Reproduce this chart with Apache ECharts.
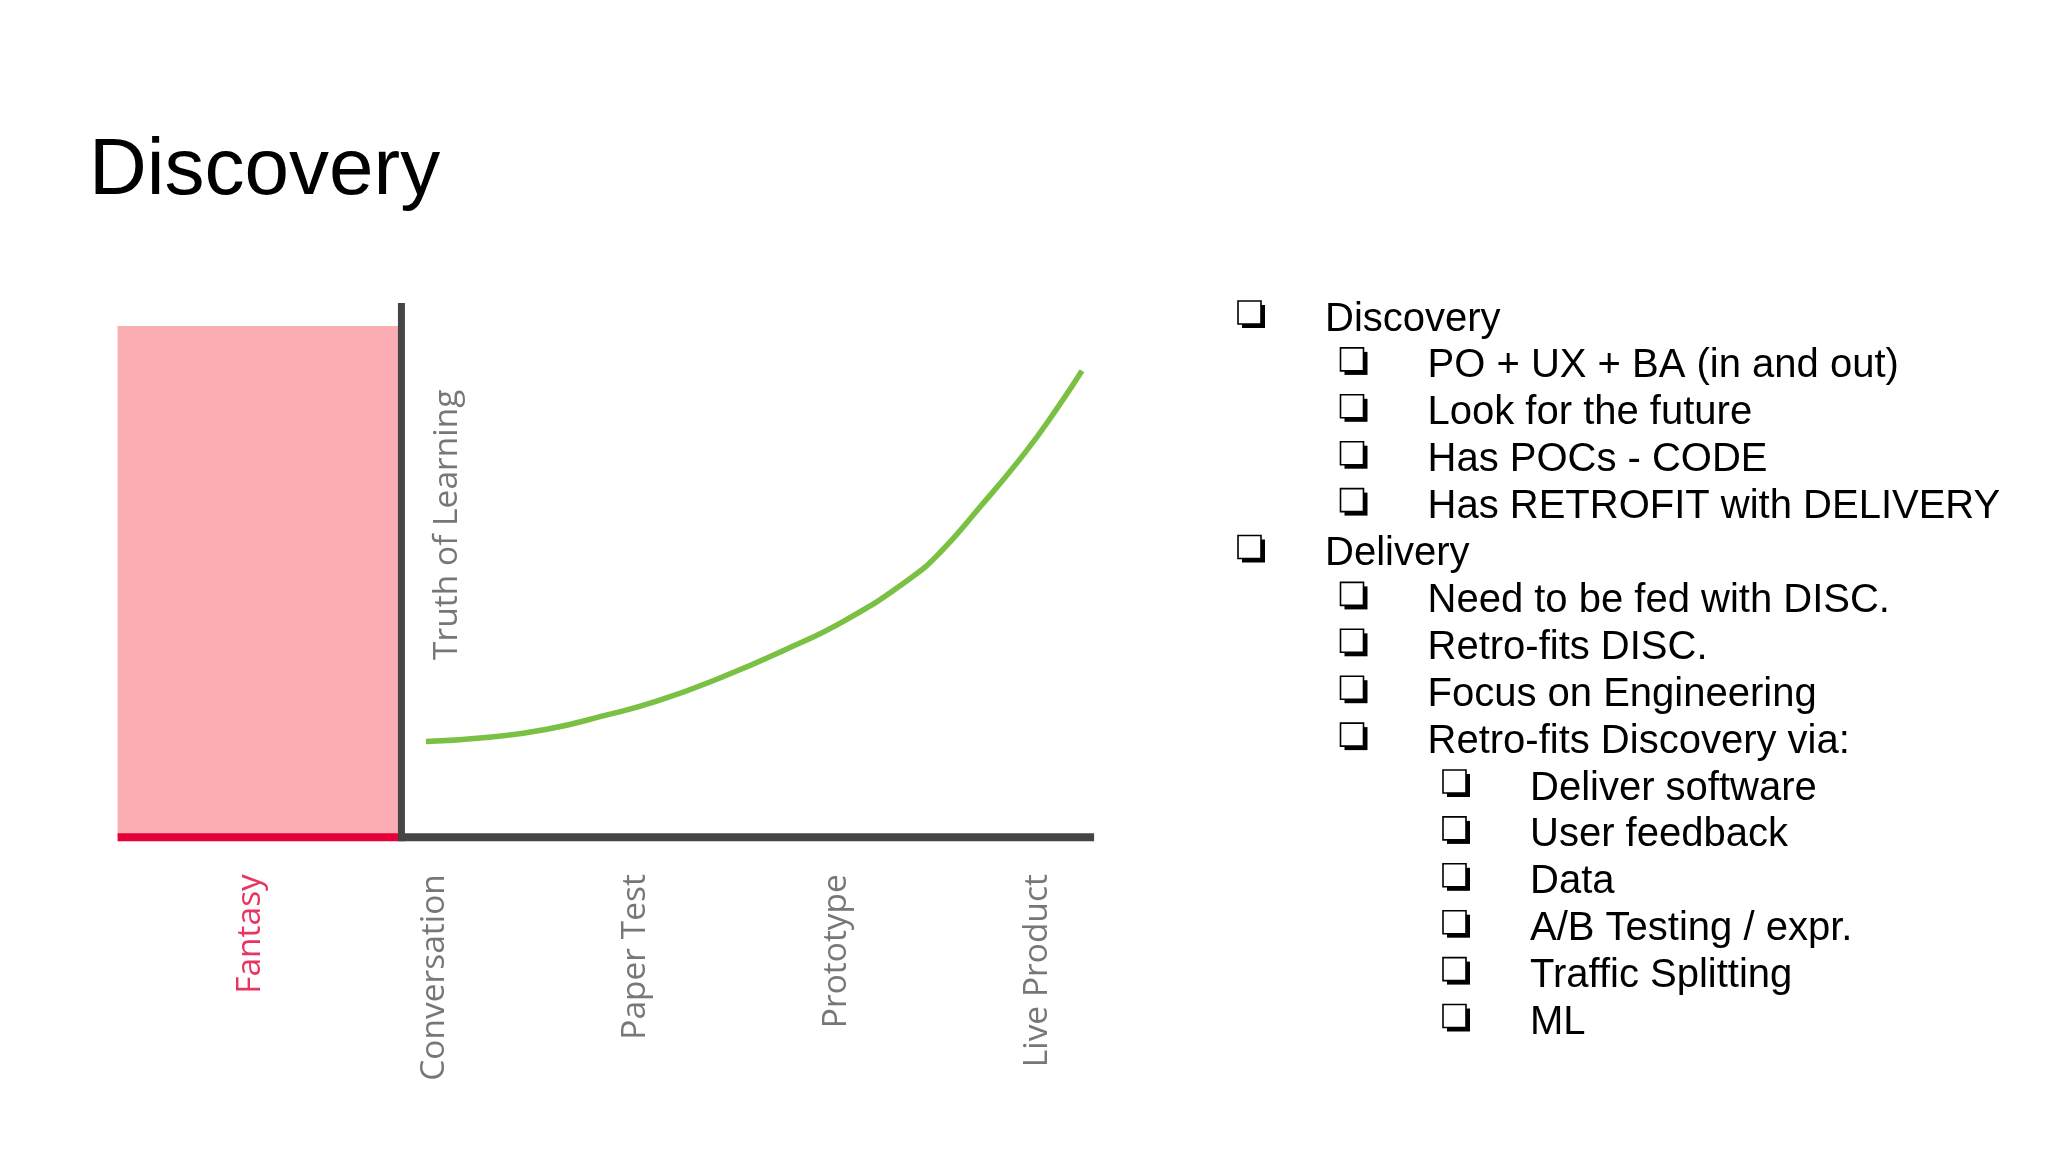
<!DOCTYPE html>
<html>
<head>
<meta charset="utf-8">
<title>Discovery</title>
<script src="https://cdn.jsdelivr.net/npm/echarts@6/dist/echarts.min.js"></script>
<style>
  html, body { margin: 0; padding: 0; background: #fff; }
  #main { width: 2048px; height: 1152px; }
</style>
</head>
<body>
<div id="main"></div>
<script>
// stages along the bottom (x in stage units, Conversation = 1)
const stages = ['Fantasy', 'Conversation', 'Paper Test', 'Prototype', 'Live Product']
const stageX = [0.09, 1, 2, 3, 4]
const stageColors = ['#e4003a', '#555555', '#555555', '#555555', '#555555']

// learning curve
const curveX = [0.96, 1.273, 1.561, 1.849, 2.118, 2.426, 2.739, 3.047, 3.36, 3.514, 3.712, 3.936, 4.09, 4.219]
const curveY = [17.9, 18.7, 20.2, 22.8, 25.6, 29.9, 35.0, 40.7, 48.3, 53.3, 61.8, 72.0, 80.0, 87.3]

const xMin = -0.572
const xMax = 4.279
const axisX = 0.838       // where the "truth" axis stands
const fantasyTop = 95.7   // height of the pink fantasy block
const yName = 'Truth of Learning'

// bullet list on the right
const bulletTexts = [
  'Discovery',
  'PO + UX + BA (in and out)',
  'Look for the future',
  'Has POCs - CODE',
  'Has RETROFIT with DELIVERY',
  'Delivery',
  'Need to be fed with DISC.',
  'Retro-fits DISC.',
  'Focus on Engineering',
  'Retro-fits Discovery via:',
  'Deliver software',
  'User feedback',
  'Data',
  'A/B Testing / expr.',
  'Traffic Splitting',
  'ML'
]
const bulletLevels = [0, 1, 1, 1, 1, 0, 1, 1, 1, 1, 2, 2, 2, 2, 2, 2]

const myChart = echarts.init(document.getElementById('main'))

const labelFont = { fontFamily: 'Open Sans', fontSize: 33.5 }

// shadowed box bullets + item text
const graphics = []
bulletTexts.forEach(function (t, i) {
  const lvl = bulletLevels[i]
  const y = 319.5 + i * 46.9
  const bx = 1238 + lvl * 102.5
  const by = y - 18.5
  graphics.push({
    type: 'rect',
    shape: { x: bx + 4, y: by + 4, width: 23, height: 23 },
    style: { fill: '#000' }
  })
  graphics.push({
    type: 'rect',
    shape: { x: bx, y: by, width: 23, height: 23 },
    style: { fill: '#fff', stroke: '#000', lineWidth: 1.6 }
  })
  graphics.push({
    type: 'text',
    x: 1325 + lvl * 102.5,
    y: y,
    style: { text: t, fontFamily: 'Liberation Sans', fontSize: 40, fill: '#000', verticalAlign: 'middle' }
  })
})

const option = {
  animation: false,
  backgroundColor: '#fff',
  title: {
    text: 'Discovery',
    left: 84,
    top: 127,
    textStyle: { fontFamily: 'Liberation Sans', fontSize: 80, fontWeight: 'normal', color: '#000' }
  },
  grid: { left: 117.6, top: 303, width: 976.5, height: 694.5 },
  xAxis: { type: 'value', min: xMin, max: xMax, show: false },
  yAxis: { type: 'value', min: -30, max: 100, show: false },
  graphic: graphics,
  series: [
    {
      name: 'fantasy',
      type: 'line',
      symbol: 'none',
      z: 3,
      lineStyle: { color: '#e6003a', width: 8, cap: 'butt' },
      data: [[xMin, 0], [axisX, 0]],
      markArea: {
        silent: true,
        itemStyle: { color: '#faaeb3', opacity: 1 },
        data: [[{ coord: [xMin, 0] }, { coord: [axisX, fantasyTop] }]]
      }
    },
    {
      name: 'base',
      type: 'line',
      symbol: 'none',
      z: 3,
      lineStyle: { color: '#454545', width: 8, cap: 'butt' },
      data: [[axisX, 0], [xMax, 0]]
    },
    {
      name: 'truth',
      type: 'line',
      symbol: 'none',
      z: 3,
      lineStyle: { color: '#454545', width: 7, cap: 'butt' },
      data: [[axisX, -0.75], [axisX, 100]]
    },
    {
      name: 'learning',
      type: 'line',
      symbol: 'none',
      smooth: 0.5,
      z: 4,
      lineStyle: { color: '#7ac143', width: 5.5 },
      data: curveX.map(function (x, i) { return [x, curveY[i]] })
    },
    {
      name: 'stages',
      type: 'scatter',
      symbolSize: 0,
      data: stageX.map(function (x, i) {
        return {
          value: [x, -6.9],
          label: { color: stageColors[i] }
        }
      }),
      label: Object.assign({
        show: true,
        position: 'inside',
        rotate: 90,
        align: 'right',
        verticalAlign: 'middle',
        formatter: function (p) { return stages[p.dataIndex] }
      }, labelFont)
    },
    {
      name: 'yname',
      type: 'scatter',
      symbolSize: 0,
      data: [[1.065, 83.8]],
      label: Object.assign({
        show: true,
        position: 'inside',
        rotate: 90,
        align: 'right',
        verticalAlign: 'middle',
        color: '#555555',
        formatter: yName
      }, labelFont)
    }
  ]
}

myChart.setOption(option)
</script>
</body>
</html>
